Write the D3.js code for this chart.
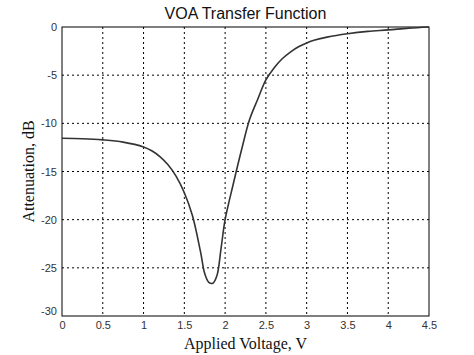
<!DOCTYPE html>
<html>
<head>
<meta charset="utf-8">
<script src="https://cdn.jsdelivr.net/npm/d3@7"></script>
<style>
  body { margin: 0; background: #fff; }
  svg { display: block; }
  .tick text { font-family: Arial, "Liberation Sans", sans-serif; font-size: 11px; fill: #333; }
</style>
</head>
<body>
<div id="chart"></div>
<script>
const VOLTS = [0, 0.25, 0.5, 0.75, 1.0, 1.1, 1.2, 1.3, 1.4, 1.5, 1.6, 1.7, 1.75, 1.8, 1.85, 1.9, 1.95,
  2.0, 2.1, 2.2, 2.3, 2.4, 2.5, 2.6, 2.7, 2.8, 2.9, 3.0, 3.1, 3.25, 3.5, 3.75, 4.0, 4.25, 4.5];
const ATTEN = [-11.55, -11.6, -11.72, -11.95, -12.45, -12.85, -13.45, -14.3, -15.5, -17.2, -19.6, -23.4,
  -25.6, -26.5, -26.6, -25.8, -23.0, -20.0, -16.3, -12.8, -9.6, -7.5, -5.5, -4.25, -3.3, -2.6, -2.05,
  -1.65, -1.35, -1.05, -0.7, -0.45, -0.3, -0.12, 0];
const X_TICKS = [0, 0.5, 1, 1.5, 2, 2.5, 3, 3.5, 4, 4.5];
const Y_TICKS = [0, -5, -10, -15, -20, -25, -30];

const data = VOLTS.map((v, i) => ({ v, db: ATTEN[i] }));

const w = 474, h = 355;
const m = { top: 27, right: 45, bottom: 39, left: 62 };
const iw = w - m.left - m.right;
const ih = h - m.top - m.bottom;

const svg = d3.select('#chart').append('svg')
  .attr('width', w).attr('height', h);

svg.append('text')
  .attr('x', m.left + iw / 2).attr('y', 19)
  .attr('text-anchor', 'middle')
  .attr('font-family', 'Arial, "Liberation Sans", sans-serif')
  .attr('font-size', '16px')
  .attr('fill', '#111')
  .text('VOA Transfer Function');

const g = svg.append('g').attr('transform', `translate(${m.left},${m.top})`);

const x = d3.scaleLinear().domain([0, 4.5]).range([0, iw]);
const y = d3.scaleLinear().domain([-30, 0]).range([ih, 0]);

// grid
g.append('g').selectAll('line')
  .data(X_TICKS.slice(1, -1))
  .join('line')
  .attr('x1', d => x(d)).attr('x2', d => x(d))
  .attr('y1', 0).attr('y2', ih)
  .attr('stroke', '#000').attr('stroke-width', 1)
  .attr('stroke-dasharray', '2,3');

g.append('g').selectAll('line')
  .data(Y_TICKS.slice(1, -1))
  .join('line')
  .attr('x1', 0).attr('x2', iw)
  .attr('y1', d => y(d)).attr('y2', d => y(d))
  .attr('stroke', '#000').attr('stroke-width', 1)
  .attr('stroke-dasharray', '2,3');

const xAxis = g.append('g')
  .attr('transform', `translate(0,${ih})`)
  .call(d3.axisBottom(x).tickValues(X_TICKS).tickSize(0).tickPadding(5).tickFormat(d => String(d)));
xAxis.select('.domain').remove();

const yAxis = g.append('g')
  .call(d3.axisLeft(y).tickValues(Y_TICKS).tickSize(0).tickPadding(5).tickFormat(d => String(d)));
yAxis.select('.domain').remove();
yAxis.selectAll('.tick').filter(d => d === -30).select('text').attr('dy', '-0.1em');

g.append('rect')
  .attr('width', iw).attr('height', ih)
  .attr('fill', 'none')
  .attr('stroke', '#000').attr('stroke-width', 1);

const line = d3.line()
  .x(d => x(d.v))
  .y(d => y(d.db))
  .curve(d3.curveCatmullRom.alpha(0.5));

g.append('path')
  .datum(data)
  .attr('fill', 'none')
  .attr('stroke', '#333')
  .attr('stroke-width', 1.6)
  .attr('d', line);

svg.append('text')
  .attr('x', m.left + iw / 2).attr('y', h - 6)
  .attr('text-anchor', 'middle')
  .attr('font-family', '"Liberation Serif", "Times New Roman", serif')
  .attr('font-size', '16px')
  .attr('fill', '#111')
  .text('Applied Voltage, V');

svg.append('text')
  .attr('transform', `translate(34,${m.top + ih / 2}) rotate(-90)`)
  .attr('text-anchor', 'middle')
  .attr('font-family', '"Liberation Serif", "Times New Roman", serif')
  .attr('font-size', '16px')
  .attr('fill', '#111')
  .text('Attenuation, dB');
</script>
</body>
</html>
